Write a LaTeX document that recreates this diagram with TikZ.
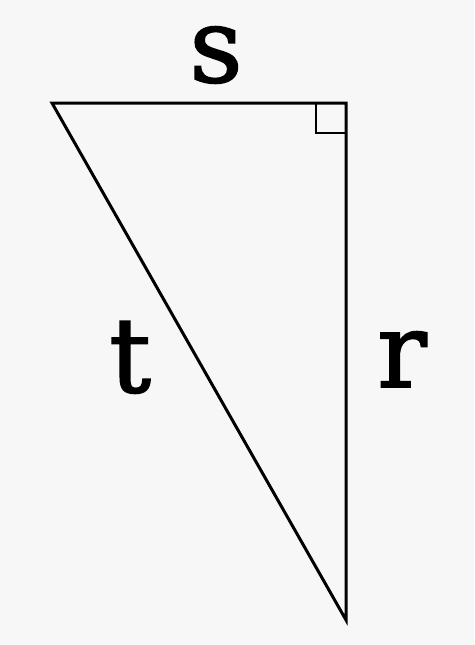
\documentclass[tikz,border=0pt]{standalone}
\usepackage{fontspec}
\setmainfont{DejaVu Serif}[FakeBold=1.6]
\begin{document}
\begin{tikzpicture}[x=1pt,y=-1pt,
  edge/.style={line width=3pt,line join=miter},
  lbl/.style={font=\fontsize{104}{104}\selectfont,anchor=base,inner sep=0pt}]
\fill[fill={rgb,255:red,247;green,247;blue,247}] (0,0) rectangle (474,645);
\useasboundingbox (0,0) rectangle (474,645);
\coordinate (A) at (52,103);
\coordinate (B) at (346,103);
\coordinate (C) at (346,620);
\draw[edge] (A) -- (B) -- (C) -- cycle;
\coordinate (q1) at (316,103);
\coordinate (q2) at (316,133);
\coordinate (q3) at (346,133);
\draw[line width=2.5pt] (q1) -- (q2) -- (q3);
\node[lbl] (s) at (216,82) {s};
\node[lbl] (t) at (130,392) {t};
\node[lbl] (r) at (402,387) {r};
\end{tikzpicture}
\end{document}
